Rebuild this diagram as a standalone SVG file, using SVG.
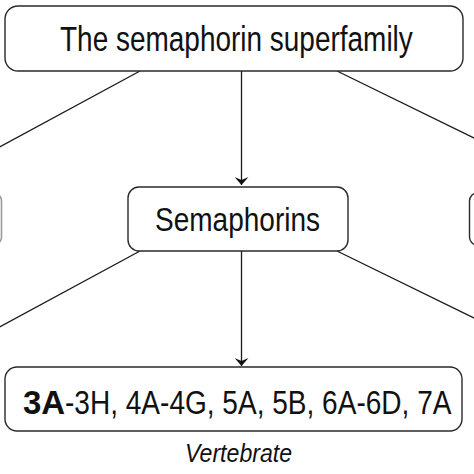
<svg xmlns="http://www.w3.org/2000/svg" width="474" height="474" viewBox="0 0 474 474">
<defs>
<style>
.box{fill:#fff;stroke:#2a2a2a;stroke-width:1.4}
.edge{fill:none;stroke:#1a1a1a;stroke-width:1.3}
.t{font-family:"Liberation Sans",Arial,sans-serif;fill:#111}
</style>
<marker id="ah" viewBox="0 0 8 14" refX="8" refY="7" markerWidth="8" markerHeight="14" markerUnits="userSpaceOnUse" orient="auto">
<path d="M0,0 L8,7 L0,14 L3,7 Z" fill="#111"/>
</marker>
</defs>
<rect width="474" height="474" fill="#fff"/>
<g id="connectors">
<line class="edge" x1="140" y1="71" x2="-4" y2="149"/>
<line class="edge" x1="337" y1="71" x2="478" y2="140"/>
<line class="edge" x1="241.5" y1="71" x2="241.5" y2="185" marker-end="url(#ah)"/>
<line class="edge" x1="140" y1="251" x2="-4" y2="329"/>
<line class="edge" x1="337" y1="251" x2="478" y2="320"/>
<line class="edge" x1="241.5" y1="251" x2="241.5" y2="366" marker-end="url(#ah)"/>
</g>
<g id="superfamily">
<rect class="box" x="5" y="6" width="458" height="65" rx="13"/>
<text class="t" transform="translate(60,51) scale(0.811,1)" x="0" y="0" font-size="34.5">The semaphorin superfamily</text>
</g>
<g id="left-partial">
<rect x="-300" y="193" width="301.5" height="52" rx="8" fill="#fff" stroke="#9a9a9a" stroke-width="1.6"/>
</g>
<g id="right-partial">
<rect class="box" x="469.5" y="193" width="300" height="52" rx="8"/>
</g>
<g id="semaphorins">
<rect class="box" x="128" y="187" width="220" height="64" rx="11"/>
<text class="t" transform="translate(155,231) scale(0.824,1)" x="0" y="0" font-size="34">Semaphorins</text>
</g>
<g id="members">
<rect class="box" x="5" y="367" width="457" height="64" rx="12"/>
<text class="t" transform="translate(23,413.5)" x="0" y="0" font-size="33" font-weight="bold">3A</text>
<text class="t" transform="translate(65,413.5) scale(0.85,1)" x="0" y="0" font-size="33">-3H, 4A-4G, 5A, 5B, 6A-6D, 7A</text>
</g>
<g id="vertebrate">
<text class="t" transform="translate(185,462) scale(0.925,1)" x="0" y="0" font-size="25" font-style="italic">Vertebrate</text>
</g>
</svg>
